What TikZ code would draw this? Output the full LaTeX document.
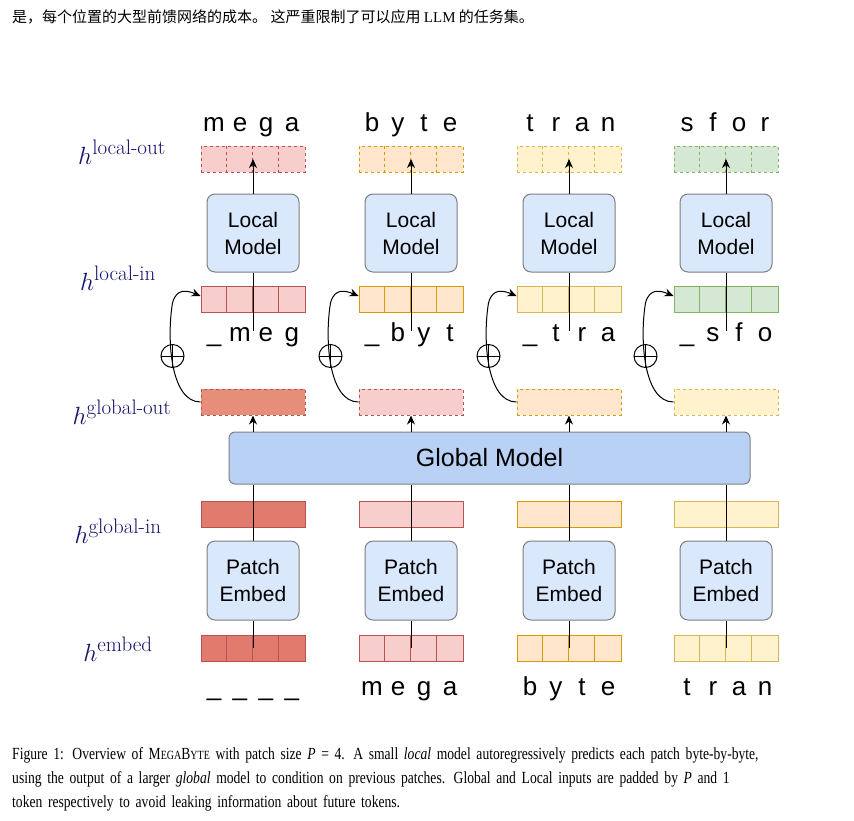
\documentclass[tikz,border=0pt]{standalone}
\usepackage{fontspec}
\usepackage{amsmath}
\newfontfamily\cjk{Noto Sans CJK SC}
\newfontfamily\lsans{Liberation Sans}
\newfontfamily\capfont[FakeStretch=0.8]{Liberation Serif}
\newfontfamily\llmfont{Liberation Serif}
\usetikzlibrary{arrows.meta,calc}
\definecolor{rF}{HTML}{F8CECC}\definecolor{rS}{HTML}{B85450}
\definecolor{oF}{HTML}{FFE6CC}\definecolor{oS}{HTML}{D79B00}
\definecolor{yF}{HTML}{FFF2CC}\definecolor{yS}{HTML}{D6B656}
\definecolor{gF}{HTML}{D5E8D4}\definecolor{gS}{HTML}{82B366}
\definecolor{dR}{HTML}{E07B6E}\definecolor{dR2}{HTML}{E68E7A}
\definecolor{bF}{HTML}{DAE8FC}\definecolor{bS}{HTML}{7F7F7F}
\definecolor{gmF}{HTML}{B9D1F5}
\definecolor{navy}{HTML}{14146E}
\newcommand\lt[4]{\makebox[26pt]{#1}\makebox[26pt]{#2}\makebox[26pt]{#3}\makebox[26pt]{#4}}
\begin{document}
\begin{tikzpicture}[x=1pt,y=-1pt,
  modelbox/.style={draw=bS,fill=bF,rounded corners=8pt,line width=1pt,font=\lsans\fontsize{21}{27}\selectfont,align=center,inner sep=0pt},
  tok/.style={font=\lsans\fontsize{26}{26}\selectfont,anchor=base,inner sep=0pt},
  hl/.style={text=navy,font=\fontsize{30}{32}\selectfont,anchor=base},
  arr/.style={-{Stealth[length=9pt,width=8pt]},line width=1pt},
  ln/.style={line width=1pt}]
\useasboundingbox (0,0) rectangle (854,820);
\fill[white] (0,0) rectangle (854,820);
\node[anchor=base west,inner sep=0pt,font=\cjk\fontsize{15}{15}\selectfont] (top) at (12,22) {是，每个位置的大型前馈网络的成本。 这严重限制了可以应用 {\llmfont LLM} 的任务集。};
% left labels
\node[hl] (l1) at (122,164) {$h^{\text{local-out}}$};
\node[hl] (l2) at (118,290) {$h^{\text{local-in}}$};
\node[hl] (l3) at (122,424) {$h^{\text{global-out}}$};
\node[hl] (l4) at (118,543) {$h^{\text{global-in}}$};
\node[hl] (l5) at (118,661) {$h^{\text{embed}}$};
% global model
\node[modelbox,fill=gmF,rounded corners=6pt,minimum width=521pt,minimum height=52pt,font=\lsans\fontsize{25}{25}\selectfont] (gm) at (489.5,458) {Global Model};
\newcommand\cellrow[6]{% x, ytop, fill, stroke, dashed?, name
  \node[draw=#4,fill=#3,line width=1pt,#5,minimum width=104pt,minimum height=26pt,inner sep=0pt] (#6) at (#1,#2+13) {};
  \foreach \k in {1,2,3}{\draw[#4,line width=1pt,#5] ($(#6.north west)+(26*\k,0)$) -- ($(#6.south west)+(26*\k,0)$);}
}
\foreach \x/\n/\oF/\oS/\iF/\iS/\goF/\goS/\giF/\giS/\eF/\eS/\to/\ti/\tb in {
  253/a/rF/rS/rF/rS/dR2/rS/dR/rS/dR/rS/{\lt mega}/{\lt{\_}meg}/{\lt{\_}{\_}{\_}{\_}},
  411/b/oF/oS/oF/oS/rF/rS/rF/rS/rF/rS/{\lt byte}/{\lt{\_}byt}/{\lt mega},
  569/c/yF/yS/yF/yS/oF/oS/oF/oS/oF/oS/{\lt tran}/{\lt{\_}tra}/{\lt byte},
  726/d/gF/gS/gF/gS/yF/yS/yF/yS/yF/yS/{\lt sfor}/{\lt{\_}sfo}/{\lt tran}}{
  \node[tok] (to\n) at (\x,131) {\to};
  \cellrow{\x}{146}{\oF}{\oS}{dashed}{lo\n}
  \node[modelbox,minimum width=92pt,minimum height=78pt] (lm\n) at (\x,233) {Local\\Model};
  \cellrow{\x}{286}{\iF}{\iS}{solid}{li\n}
  \node[tok] (ti\n) at (\x,341) {\ti};
  \node[draw=\goS,fill=\goF,line width=1pt,dashed,minimum width=104pt,minimum height=26pt,inner sep=0pt] (go\n) at (\x,402) {};
  \node[draw=\giS,fill=\giF,line width=1pt,minimum width=104pt,minimum height=26pt,inner sep=0pt] (gi\n) at (\x,514) {};
  \node[modelbox,minimum width=92pt,minimum height=79pt] (pe\n) at (\x,580.5) {Patch\\Embed};
  \cellrow{\x}{635}{\eF}{\eS}{solid}{em\n}
  \node[tok] (tb\n) at (\x,695) {\tb};
  \coordinate (pl\n) at ($(go\n.west)+(-28,-46)$);
  \draw[ln] (pl\n) circle (11.5pt);
  \draw[ln] ($(pl\n)+(-11.5,0)$) -- ($(pl\n)+(11.5,0)$);
  \draw[ln] ($(pl\n)+(0,-11.5)$) -- ($(pl\n)+(0,11.5)$);
  \draw[arr] (go\n.west) .. controls ($(go\n.west)+(-30,0)$) and ($(li\n.west)+(-34,40)$) .. ($(li\n.west)+(-28,4)$) .. controls ($(li\n.west)+(-24,-12)$) and ($(li\n.west)+(-12,-8)$) .. ($(li\n.west)+(0,-3)$);
  \draw[arr] (lm\n.north) -- (lo\n.center);
  \draw[ln] (lm\n.south) -- ($(li\n.south)+(0,18)$);
  \draw[arr] (gm.north -| go\n) -- (go\n.south);
  \draw[ln] (pe\n.north) -- (gm.south -| pe\n);
  \draw[ln] (em\n.center) -- (pe\n.south);
}
\node[anchor=base west,inner sep=0pt,text width=832pt,align=left,font=\capfont\fontsize{17}{24}\selectfont] (cap) at (12,759) {\makebox[832pt][s]{Figure 1: Overview of M{\fontsize{12.5}{12}\selectfont EGA}B{\fontsize{12.5}{12}\selectfont YTE} with patch size \textit{P} = 4. A small \textit{local} model autoregressively predicts each patch byte-by-byte,}\\ \makebox[832pt][s]{using the output of a larger \textit{global} model to condition on previous patches. Global and Local inputs are padded by \textit{P} and 1}\\ token respectively to avoid leaking information about future tokens.};
\end{tikzpicture}
\end{document}
